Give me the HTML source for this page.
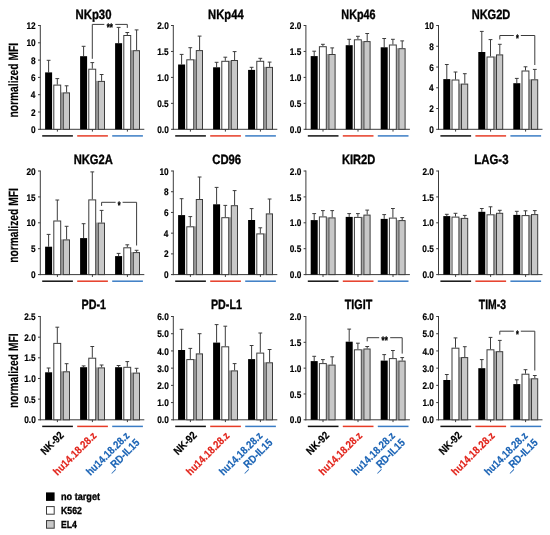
<!DOCTYPE html>
<html><head><meta charset="utf-8"><title>Figure</title>
<style>
html,body{margin:0;padding:0;background:#fff;}
body{width:550px;height:535px;overflow:hidden;}
svg{display:block;}
text{font-family:"Liberation Sans",Arial,sans-serif;font-weight:bold;text-rendering:geometricPrecision;}
</style></head><body>
<svg width="550" height="535" viewBox="0 0 550 535">
<rect width="550" height="535" fill="#fff"/>
<text transform="translate(75.47 18.50) scale(0.8421 1)" font-size="13.50" fill="#000" stroke="#000" stroke-width="0.35">NKp30</text>
<line x1="40.30" y1="25.00" x2="40.30" y2="129.80" stroke="#3c3c3c" stroke-width="1.00"/>
<line x1="39.80" y1="129.30" x2="144.30" y2="129.30" stroke="#3c3c3c" stroke-width="1.00"/>
<line x1="38.00" y1="129.30" x2="40.30" y2="129.30" stroke="#3c3c3c" stroke-width="1.00"/>
<text transform="translate(31.11 132.90) scale(0.8600 1)" font-size="9.60" fill="#000" stroke="#000" stroke-width="0.20">0</text>
<line x1="38.00" y1="112.00" x2="40.30" y2="112.00" stroke="#3c3c3c" stroke-width="1.00"/>
<text transform="translate(31.11 115.60) scale(0.8600 1)" font-size="9.60" fill="#000" stroke="#000" stroke-width="0.20">2</text>
<line x1="38.00" y1="94.70" x2="40.30" y2="94.70" stroke="#3c3c3c" stroke-width="1.00"/>
<text transform="translate(30.78 98.30) scale(0.8600 1)" font-size="9.60" fill="#000" stroke="#000" stroke-width="0.20">4</text>
<line x1="38.00" y1="77.40" x2="40.30" y2="77.40" stroke="#3c3c3c" stroke-width="1.00"/>
<text transform="translate(31.11 81.00) scale(0.8600 1)" font-size="9.60" fill="#000" stroke="#000" stroke-width="0.20">6</text>
<line x1="38.00" y1="60.10" x2="40.30" y2="60.10" stroke="#3c3c3c" stroke-width="1.00"/>
<text transform="translate(31.02 63.70) scale(0.8600 1)" font-size="9.60" fill="#000" stroke="#000" stroke-width="0.20">8</text>
<line x1="38.00" y1="42.80" x2="40.30" y2="42.80" stroke="#3c3c3c" stroke-width="1.00"/>
<text transform="translate(26.48 46.40) scale(0.8600 1)" font-size="9.60" fill="#000" stroke="#000" stroke-width="0.20">10</text>
<line x1="38.00" y1="25.50" x2="40.30" y2="25.50" stroke="#3c3c3c" stroke-width="1.00"/>
<text transform="translate(26.48 29.10) scale(0.8600 1)" font-size="9.60" fill="#000" stroke="#000" stroke-width="0.20">12</text>
<path d="M48.60 72.40 V60.30 M46.70 60.30 H50.50" stroke="#3c3c3c" stroke-width="1" fill="none"/>
<path d="M57.30 84.60 V78.60 M55.40 78.60 H59.20" stroke="#3c3c3c" stroke-width="1" fill="none"/>
<path d="M66.60 92.40 V85.80 M64.70 85.80 H68.50" stroke="#3c3c3c" stroke-width="1" fill="none"/>
<rect x="45.10" y="72.40" width="7" height="56.90" fill="#000"/>
<rect x="60.90" y="92.40" width="2.0" height="36.90" fill="#a6a6a6"/>
<rect x="53.80" y="85.10" width="6.9" height="44.20" fill="#fff" stroke="#3c3c3c" stroke-width="1"/>
<rect x="63.30" y="92.90" width="6.2" height="36.40" fill="#c8c8c8" stroke="#3c3c3c" stroke-width="1"/>
<line x1="57.40" y1="129.30" x2="57.40" y2="131.60" stroke="#3c3c3c" stroke-width="1"/>
<line x1="42.20" y1="135.90" x2="72.90" y2="135.90" stroke="#111111" stroke-width="1.5"/>
<path d="M83.60 56.20 V46.30 M81.70 46.30 H85.50" stroke="#3c3c3c" stroke-width="1" fill="none"/>
<path d="M92.30 68.70 V62.60 M90.40 62.60 H94.20" stroke="#3c3c3c" stroke-width="1" fill="none"/>
<path d="M101.60 80.90 V74.50 M99.70 74.50 H103.50" stroke="#3c3c3c" stroke-width="1" fill="none"/>
<rect x="80.10" y="56.20" width="7" height="73.10" fill="#000"/>
<rect x="95.90" y="80.90" width="2.0" height="48.40" fill="#a6a6a6"/>
<rect x="88.80" y="69.20" width="6.9" height="60.10" fill="#fff" stroke="#3c3c3c" stroke-width="1"/>
<rect x="98.30" y="81.40" width="6.2" height="47.90" fill="#c8c8c8" stroke="#3c3c3c" stroke-width="1"/>
<line x1="92.40" y1="129.30" x2="92.40" y2="131.60" stroke="#3c3c3c" stroke-width="1"/>
<line x1="77.20" y1="135.90" x2="107.90" y2="135.90" stroke="#e63b26" stroke-width="1.5"/>
<path d="M118.60 43.20 V27.40 M116.70 27.40 H120.50" stroke="#3c3c3c" stroke-width="1" fill="none"/>
<path d="M127.30 35.00 V32.50 M125.40 32.50 H129.20" stroke="#3c3c3c" stroke-width="1" fill="none"/>
<path d="M136.60 50.20 V29.90 M134.70 29.90 H138.50" stroke="#3c3c3c" stroke-width="1" fill="none"/>
<rect x="115.10" y="43.20" width="7" height="86.10" fill="#000"/>
<rect x="130.90" y="50.20" width="2.0" height="79.10" fill="#a6a6a6"/>
<rect x="123.80" y="35.50" width="6.9" height="93.80" fill="#fff" stroke="#3c3c3c" stroke-width="1"/>
<rect x="133.30" y="50.70" width="6.2" height="78.60" fill="#c8c8c8" stroke="#3c3c3c" stroke-width="1"/>
<line x1="127.40" y1="129.30" x2="127.40" y2="131.60" stroke="#3c3c3c" stroke-width="1"/>
<line x1="112.20" y1="135.90" x2="142.90" y2="135.90" stroke="#3a7cc4" stroke-width="1.5"/>
<path d="M92.30 58.80 V24.40 H104.30 M115.30 24.40 H127.30 V27.90" stroke="#3c3c3c" stroke-width="1" fill="none"/>
<text transform="translate(106.70 30.90) scale(0.7226 1)" font-size="11.00" fill="#000" stroke="#000" stroke-width="0.35">**</text>
<text transform="translate(208.08 18.50) scale(0.8312 1)" font-size="13.50" fill="#000" stroke="#000" stroke-width="0.35">NKp44</text>
<line x1="173.30" y1="25.00" x2="173.30" y2="129.80" stroke="#3c3c3c" stroke-width="1.00"/>
<line x1="172.80" y1="129.30" x2="277.30" y2="129.30" stroke="#3c3c3c" stroke-width="1.00"/>
<line x1="171.00" y1="129.30" x2="173.30" y2="129.30" stroke="#3c3c3c" stroke-width="1.00"/>
<text transform="translate(157.25 132.90) scale(0.8600 1)" font-size="9.60" fill="#000" stroke="#000" stroke-width="0.20">0.0</text>
<line x1="171.00" y1="103.35" x2="173.30" y2="103.35" stroke="#3c3c3c" stroke-width="1.00"/>
<text transform="translate(157.17 106.95) scale(0.8600 1)" font-size="9.60" fill="#000" stroke="#000" stroke-width="0.20">0.5</text>
<line x1="171.00" y1="77.40" x2="173.30" y2="77.40" stroke="#3c3c3c" stroke-width="1.00"/>
<text transform="translate(157.25 81.00) scale(0.8600 1)" font-size="9.60" fill="#000" stroke="#000" stroke-width="0.20">1.0</text>
<line x1="171.00" y1="51.45" x2="173.30" y2="51.45" stroke="#3c3c3c" stroke-width="1.00"/>
<text transform="translate(157.17 55.05) scale(0.8600 1)" font-size="9.60" fill="#000" stroke="#000" stroke-width="0.20">1.5</text>
<line x1="171.00" y1="25.50" x2="173.30" y2="25.50" stroke="#3c3c3c" stroke-width="1.00"/>
<text transform="translate(157.25 29.10) scale(0.8600 1)" font-size="9.60" fill="#000" stroke="#000" stroke-width="0.20">2.0</text>
<path d="M181.60 64.50 V54.40 M179.70 54.40 H183.50" stroke="#3c3c3c" stroke-width="1" fill="none"/>
<path d="M190.30 59.30 V47.70 M188.40 47.70 H192.20" stroke="#3c3c3c" stroke-width="1" fill="none"/>
<path d="M199.60 50.10 V36.10 M197.70 36.10 H201.50" stroke="#3c3c3c" stroke-width="1" fill="none"/>
<rect x="178.10" y="64.50" width="7" height="64.80" fill="#000"/>
<rect x="193.90" y="59.30" width="2.0" height="70.00" fill="#a6a6a6"/>
<rect x="186.80" y="59.80" width="6.9" height="69.50" fill="#fff" stroke="#3c3c3c" stroke-width="1"/>
<rect x="196.30" y="50.60" width="6.2" height="78.70" fill="#c8c8c8" stroke="#3c3c3c" stroke-width="1"/>
<line x1="190.40" y1="129.30" x2="190.40" y2="131.60" stroke="#3c3c3c" stroke-width="1"/>
<line x1="175.20" y1="135.90" x2="205.90" y2="135.90" stroke="#111111" stroke-width="1.5"/>
<path d="M216.60 67.30 V62.30 M214.70 62.30 H218.50" stroke="#3c3c3c" stroke-width="1" fill="none"/>
<path d="M225.30 60.80 V57.20 M223.40 57.20 H227.20" stroke="#3c3c3c" stroke-width="1" fill="none"/>
<path d="M234.60 60.00 V51.60 M232.70 51.60 H236.50" stroke="#3c3c3c" stroke-width="1" fill="none"/>
<rect x="213.10" y="67.30" width="7" height="62.00" fill="#000"/>
<rect x="228.90" y="60.80" width="2.0" height="68.50" fill="#a6a6a6"/>
<rect x="221.80" y="61.30" width="6.9" height="68.00" fill="#fff" stroke="#3c3c3c" stroke-width="1"/>
<rect x="231.30" y="60.50" width="6.2" height="68.80" fill="#c8c8c8" stroke="#3c3c3c" stroke-width="1"/>
<line x1="225.40" y1="129.30" x2="225.40" y2="131.60" stroke="#3c3c3c" stroke-width="1"/>
<line x1="210.20" y1="135.90" x2="240.90" y2="135.90" stroke="#e63b26" stroke-width="1.5"/>
<path d="M251.60 69.90 V67.30 M249.70 67.30 H253.50" stroke="#3c3c3c" stroke-width="1" fill="none"/>
<path d="M260.30 60.80 V58.30 M258.40 58.30 H262.20" stroke="#3c3c3c" stroke-width="1" fill="none"/>
<path d="M269.60 66.90 V62.10 M267.70 62.10 H271.50" stroke="#3c3c3c" stroke-width="1" fill="none"/>
<rect x="248.10" y="69.90" width="7" height="59.40" fill="#000"/>
<rect x="263.90" y="66.90" width="2.0" height="62.40" fill="#a6a6a6"/>
<rect x="256.80" y="61.30" width="6.9" height="68.00" fill="#fff" stroke="#3c3c3c" stroke-width="1"/>
<rect x="266.30" y="67.40" width="6.2" height="61.90" fill="#c8c8c8" stroke="#3c3c3c" stroke-width="1"/>
<line x1="260.40" y1="129.30" x2="260.40" y2="131.60" stroke="#3c3c3c" stroke-width="1"/>
<line x1="245.20" y1="135.90" x2="275.90" y2="135.90" stroke="#3a7cc4" stroke-width="1.5"/>
<text transform="translate(341.35 18.50) scale(0.8011 1)" font-size="13.50" fill="#000" stroke="#000" stroke-width="0.35">NKp46</text>
<line x1="305.90" y1="25.00" x2="305.90" y2="129.80" stroke="#3c3c3c" stroke-width="1.00"/>
<line x1="305.40" y1="129.30" x2="409.90" y2="129.30" stroke="#3c3c3c" stroke-width="1.00"/>
<line x1="303.60" y1="129.30" x2="305.90" y2="129.30" stroke="#3c3c3c" stroke-width="1.00"/>
<text transform="translate(289.85 132.90) scale(0.8600 1)" font-size="9.60" fill="#000" stroke="#000" stroke-width="0.20">0.0</text>
<line x1="303.60" y1="103.35" x2="305.90" y2="103.35" stroke="#3c3c3c" stroke-width="1.00"/>
<text transform="translate(289.77 106.95) scale(0.8600 1)" font-size="9.60" fill="#000" stroke="#000" stroke-width="0.20">0.5</text>
<line x1="303.60" y1="77.40" x2="305.90" y2="77.40" stroke="#3c3c3c" stroke-width="1.00"/>
<text transform="translate(289.85 81.00) scale(0.8600 1)" font-size="9.60" fill="#000" stroke="#000" stroke-width="0.20">1.0</text>
<line x1="303.60" y1="51.45" x2="305.90" y2="51.45" stroke="#3c3c3c" stroke-width="1.00"/>
<text transform="translate(289.77 55.05) scale(0.8600 1)" font-size="9.60" fill="#000" stroke="#000" stroke-width="0.20">1.5</text>
<line x1="303.60" y1="25.50" x2="305.90" y2="25.50" stroke="#3c3c3c" stroke-width="1.00"/>
<text transform="translate(289.85 29.10) scale(0.8600 1)" font-size="9.60" fill="#000" stroke="#000" stroke-width="0.20">2.0</text>
<path d="M314.20 56.10 V51.20 M312.30 51.20 H316.10" stroke="#3c3c3c" stroke-width="1" fill="none"/>
<path d="M322.90 46.20 V44.30 M321.00 44.30 H324.80" stroke="#3c3c3c" stroke-width="1" fill="none"/>
<path d="M332.20 54.00 V47.90 M330.30 47.90 H334.10" stroke="#3c3c3c" stroke-width="1" fill="none"/>
<rect x="310.70" y="56.10" width="7" height="73.20" fill="#000"/>
<rect x="326.50" y="54.00" width="2.0" height="75.30" fill="#a6a6a6"/>
<rect x="319.40" y="46.70" width="6.9" height="82.60" fill="#fff" stroke="#3c3c3c" stroke-width="1"/>
<rect x="328.90" y="54.50" width="6.2" height="74.80" fill="#c8c8c8" stroke="#3c3c3c" stroke-width="1"/>
<line x1="323.00" y1="129.30" x2="323.00" y2="131.60" stroke="#3c3c3c" stroke-width="1"/>
<line x1="307.80" y1="135.90" x2="338.50" y2="135.90" stroke="#111111" stroke-width="1.5"/>
<path d="M349.20 45.20 V39.30 M347.30 39.30 H351.10" stroke="#3c3c3c" stroke-width="1" fill="none"/>
<path d="M357.90 39.30 V36.30 M356.00 36.30 H359.80" stroke="#3c3c3c" stroke-width="1" fill="none"/>
<path d="M367.20 41.10 V33.50 M365.30 33.50 H369.10" stroke="#3c3c3c" stroke-width="1" fill="none"/>
<rect x="345.70" y="45.20" width="7" height="84.10" fill="#000"/>
<rect x="361.50" y="41.10" width="2.0" height="88.20" fill="#a6a6a6"/>
<rect x="354.40" y="39.80" width="6.9" height="89.50" fill="#fff" stroke="#3c3c3c" stroke-width="1"/>
<rect x="363.90" y="41.60" width="6.2" height="87.70" fill="#c8c8c8" stroke="#3c3c3c" stroke-width="1"/>
<line x1="358.00" y1="129.30" x2="358.00" y2="131.60" stroke="#3c3c3c" stroke-width="1"/>
<line x1="342.80" y1="135.90" x2="373.50" y2="135.90" stroke="#e63b26" stroke-width="1.5"/>
<path d="M384.20 47.30 V38.50 M382.30 38.50 H386.10" stroke="#3c3c3c" stroke-width="1" fill="none"/>
<path d="M392.90 44.50 V39.30 M391.00 39.30 H394.80" stroke="#3c3c3c" stroke-width="1" fill="none"/>
<path d="M402.20 48.20 V40.90 M400.30 40.90 H404.10" stroke="#3c3c3c" stroke-width="1" fill="none"/>
<rect x="380.70" y="47.30" width="7" height="82.00" fill="#000"/>
<rect x="396.50" y="48.20" width="2.0" height="81.10" fill="#a6a6a6"/>
<rect x="389.40" y="45.00" width="6.9" height="84.30" fill="#fff" stroke="#3c3c3c" stroke-width="1"/>
<rect x="398.90" y="48.70" width="6.2" height="80.60" fill="#c8c8c8" stroke="#3c3c3c" stroke-width="1"/>
<line x1="393.00" y1="129.30" x2="393.00" y2="131.60" stroke="#3c3c3c" stroke-width="1"/>
<line x1="377.80" y1="135.90" x2="408.50" y2="135.90" stroke="#3a7cc4" stroke-width="1.5"/>
<text transform="translate(471.64 18.50) scale(0.8192 1)" font-size="13.50" fill="#000" stroke="#000" stroke-width="0.35">NKG2D</text>
<line x1="438.50" y1="25.00" x2="438.50" y2="129.80" stroke="#3c3c3c" stroke-width="1.00"/>
<line x1="438.00" y1="129.30" x2="542.50" y2="129.30" stroke="#3c3c3c" stroke-width="1.00"/>
<line x1="436.20" y1="129.30" x2="438.50" y2="129.30" stroke="#3c3c3c" stroke-width="1.00"/>
<text transform="translate(429.31 132.90) scale(0.8600 1)" font-size="9.60" fill="#000" stroke="#000" stroke-width="0.20">0</text>
<line x1="436.20" y1="108.54" x2="438.50" y2="108.54" stroke="#3c3c3c" stroke-width="1.00"/>
<text transform="translate(429.31 112.14) scale(0.8600 1)" font-size="9.60" fill="#000" stroke="#000" stroke-width="0.20">2</text>
<line x1="436.20" y1="87.78" x2="438.50" y2="87.78" stroke="#3c3c3c" stroke-width="1.00"/>
<text transform="translate(428.98 91.38) scale(0.8600 1)" font-size="9.60" fill="#000" stroke="#000" stroke-width="0.20">4</text>
<line x1="436.20" y1="67.02" x2="438.50" y2="67.02" stroke="#3c3c3c" stroke-width="1.00"/>
<text transform="translate(429.31 70.62) scale(0.8600 1)" font-size="9.60" fill="#000" stroke="#000" stroke-width="0.20">6</text>
<line x1="436.20" y1="46.26" x2="438.50" y2="46.26" stroke="#3c3c3c" stroke-width="1.00"/>
<text transform="translate(429.22 49.86) scale(0.8600 1)" font-size="9.60" fill="#000" stroke="#000" stroke-width="0.20">8</text>
<line x1="436.20" y1="25.50" x2="438.50" y2="25.50" stroke="#3c3c3c" stroke-width="1.00"/>
<text transform="translate(424.68 29.10) scale(0.8600 1)" font-size="9.60" fill="#000" stroke="#000" stroke-width="0.20">10</text>
<path d="M446.80 79.10 V64.50 M444.90 64.50 H448.70" stroke="#3c3c3c" stroke-width="1" fill="none"/>
<path d="M455.50 79.50 V72.00 M453.60 72.00 H457.40" stroke="#3c3c3c" stroke-width="1" fill="none"/>
<path d="M464.80 83.60 V73.70 M462.90 73.70 H466.70" stroke="#3c3c3c" stroke-width="1" fill="none"/>
<rect x="443.30" y="79.10" width="7" height="50.20" fill="#000"/>
<rect x="459.10" y="83.60" width="2.0" height="45.70" fill="#a6a6a6"/>
<rect x="452.00" y="80.00" width="6.9" height="49.30" fill="#fff" stroke="#3c3c3c" stroke-width="1"/>
<rect x="461.50" y="84.10" width="6.2" height="45.20" fill="#c8c8c8" stroke="#3c3c3c" stroke-width="1"/>
<line x1="455.60" y1="129.30" x2="455.60" y2="131.60" stroke="#3c3c3c" stroke-width="1"/>
<line x1="440.40" y1="135.90" x2="471.10" y2="135.90" stroke="#111111" stroke-width="1.5"/>
<path d="M481.80 52.00 V31.40 M479.90 31.40 H483.70" stroke="#3c3c3c" stroke-width="1" fill="none"/>
<path d="M490.50 56.50 V39.60 M488.60 39.60 H492.40" stroke="#3c3c3c" stroke-width="1" fill="none"/>
<path d="M499.80 54.40 V44.30 M497.90 44.30 H501.70" stroke="#3c3c3c" stroke-width="1" fill="none"/>
<rect x="478.30" y="52.00" width="7" height="77.30" fill="#000"/>
<rect x="494.10" y="56.50" width="2.0" height="72.80" fill="#a6a6a6"/>
<rect x="487.00" y="57.00" width="6.9" height="72.30" fill="#fff" stroke="#3c3c3c" stroke-width="1"/>
<rect x="496.50" y="54.90" width="6.2" height="74.40" fill="#c8c8c8" stroke="#3c3c3c" stroke-width="1"/>
<line x1="490.60" y1="129.30" x2="490.60" y2="131.60" stroke="#3c3c3c" stroke-width="1"/>
<line x1="475.40" y1="135.90" x2="506.10" y2="135.90" stroke="#e63b26" stroke-width="1.5"/>
<path d="M516.80 83.20 V78.40 M514.90 78.40 H518.70" stroke="#3c3c3c" stroke-width="1" fill="none"/>
<path d="M525.50 70.50 V66.80 M523.60 66.80 H527.40" stroke="#3c3c3c" stroke-width="1" fill="none"/>
<path d="M534.80 79.30 V69.40 M532.90 69.40 H536.70" stroke="#3c3c3c" stroke-width="1" fill="none"/>
<rect x="513.30" y="83.20" width="7" height="46.10" fill="#000"/>
<rect x="529.10" y="79.30" width="2.0" height="50.00" fill="#a6a6a6"/>
<rect x="522.00" y="71.00" width="6.9" height="58.30" fill="#fff" stroke="#3c3c3c" stroke-width="1"/>
<rect x="531.50" y="79.80" width="6.2" height="49.50" fill="#c8c8c8" stroke="#3c3c3c" stroke-width="1"/>
<line x1="525.60" y1="129.30" x2="525.60" y2="131.60" stroke="#3c3c3c" stroke-width="1"/>
<line x1="510.40" y1="135.90" x2="541.10" y2="135.90" stroke="#3a7cc4" stroke-width="1.5"/>
<path d="M499.80 39.50 V35.50 H513.80 M520.80 35.50 H534.80 V65.00" stroke="#3c3c3c" stroke-width="1" fill="none"/>
<text transform="translate(515.90 42.00) scale(0.6527 1)" font-size="11.00" fill="#000" stroke="#000" stroke-width="0.35">*</text>
<text transform="translate(73.68 164.20) scale(0.8295 1)" font-size="13.50" fill="#000" stroke="#000" stroke-width="0.35">NKG2A</text>
<line x1="40.30" y1="170.50" x2="40.30" y2="275.10" stroke="#3c3c3c" stroke-width="1.00"/>
<line x1="39.80" y1="274.60" x2="144.30" y2="274.60" stroke="#3c3c3c" stroke-width="1.00"/>
<line x1="38.00" y1="274.60" x2="40.30" y2="274.60" stroke="#3c3c3c" stroke-width="1.00"/>
<text transform="translate(31.11 278.20) scale(0.8600 1)" font-size="9.60" fill="#000" stroke="#000" stroke-width="0.20">0</text>
<line x1="38.00" y1="248.70" x2="40.30" y2="248.70" stroke="#3c3c3c" stroke-width="1.00"/>
<text transform="translate(31.02 252.30) scale(0.8600 1)" font-size="9.60" fill="#000" stroke="#000" stroke-width="0.20">5</text>
<line x1="38.00" y1="222.80" x2="40.30" y2="222.80" stroke="#3c3c3c" stroke-width="1.00"/>
<text transform="translate(26.48 226.40) scale(0.8600 1)" font-size="9.60" fill="#000" stroke="#000" stroke-width="0.20">10</text>
<line x1="38.00" y1="196.90" x2="40.30" y2="196.90" stroke="#3c3c3c" stroke-width="1.00"/>
<text transform="translate(26.40 200.50) scale(0.8600 1)" font-size="9.60" fill="#000" stroke="#000" stroke-width="0.20">15</text>
<line x1="38.00" y1="171.00" x2="40.30" y2="171.00" stroke="#3c3c3c" stroke-width="1.00"/>
<text transform="translate(26.48 174.60) scale(0.8600 1)" font-size="9.60" fill="#000" stroke="#000" stroke-width="0.20">20</text>
<path d="M48.60 246.70 V234.40 M46.70 234.40 H50.50" stroke="#3c3c3c" stroke-width="1" fill="none"/>
<path d="M57.30 220.50 V200.00 M55.40 200.00 H59.20" stroke="#3c3c3c" stroke-width="1" fill="none"/>
<path d="M66.60 239.40 V226.30 M64.70 226.30 H68.50" stroke="#3c3c3c" stroke-width="1" fill="none"/>
<rect x="45.10" y="246.70" width="7" height="27.90" fill="#000"/>
<rect x="60.90" y="239.40" width="2.0" height="35.20" fill="#a6a6a6"/>
<rect x="53.80" y="221.00" width="6.9" height="53.60" fill="#fff" stroke="#3c3c3c" stroke-width="1"/>
<rect x="63.30" y="239.90" width="6.2" height="34.70" fill="#c8c8c8" stroke="#3c3c3c" stroke-width="1"/>
<line x1="57.40" y1="274.60" x2="57.40" y2="276.90" stroke="#3c3c3c" stroke-width="1"/>
<line x1="42.20" y1="281.20" x2="72.90" y2="281.20" stroke="#111111" stroke-width="1.5"/>
<path d="M83.60 238.10 V223.70 M81.70 223.70 H85.50" stroke="#3c3c3c" stroke-width="1" fill="none"/>
<path d="M92.30 199.40 V171.90 M90.40 171.90 H94.20" stroke="#3c3c3c" stroke-width="1" fill="none"/>
<path d="M101.60 222.60 V210.40 M99.70 210.40 H103.50" stroke="#3c3c3c" stroke-width="1" fill="none"/>
<rect x="80.10" y="238.10" width="7" height="36.50" fill="#000"/>
<rect x="95.90" y="222.60" width="2.0" height="52.00" fill="#a6a6a6"/>
<rect x="88.80" y="199.90" width="6.9" height="74.70" fill="#fff" stroke="#3c3c3c" stroke-width="1"/>
<rect x="98.30" y="223.10" width="6.2" height="51.50" fill="#c8c8c8" stroke="#3c3c3c" stroke-width="1"/>
<line x1="92.40" y1="274.60" x2="92.40" y2="276.90" stroke="#3c3c3c" stroke-width="1"/>
<line x1="77.20" y1="281.20" x2="107.90" y2="281.20" stroke="#e63b26" stroke-width="1.5"/>
<path d="M118.60 256.10 V253.40 M116.70 253.40 H120.50" stroke="#3c3c3c" stroke-width="1" fill="none"/>
<path d="M127.30 247.30 V244.80 M125.40 244.80 H129.20" stroke="#3c3c3c" stroke-width="1" fill="none"/>
<path d="M136.60 252.10 V250.30 M134.70 250.30 H138.50" stroke="#3c3c3c" stroke-width="1" fill="none"/>
<rect x="115.10" y="256.10" width="7" height="18.50" fill="#000"/>
<rect x="130.90" y="252.10" width="2.0" height="22.50" fill="#a6a6a6"/>
<rect x="123.80" y="247.80" width="6.9" height="26.80" fill="#fff" stroke="#3c3c3c" stroke-width="1"/>
<rect x="133.30" y="252.60" width="6.2" height="22.00" fill="#c8c8c8" stroke="#3c3c3c" stroke-width="1"/>
<line x1="127.40" y1="274.60" x2="127.40" y2="276.90" stroke="#3c3c3c" stroke-width="1"/>
<line x1="112.20" y1="281.20" x2="142.90" y2="281.20" stroke="#3a7cc4" stroke-width="1.5"/>
<path d="M101.60 205.90 V202.30 H115.60 M122.60 202.30 H136.60 V245.50" stroke="#3c3c3c" stroke-width="1" fill="none"/>
<text transform="translate(117.70 208.80) scale(0.6527 1)" font-size="11.00" fill="#000" stroke="#000" stroke-width="0.35">*</text>
<text transform="translate(212.20 164.20) scale(0.8393 1)" font-size="13.50" fill="#000" stroke="#000" stroke-width="0.35">CD96</text>
<line x1="173.30" y1="170.50" x2="173.30" y2="275.10" stroke="#3c3c3c" stroke-width="1.00"/>
<line x1="172.80" y1="274.60" x2="277.30" y2="274.60" stroke="#3c3c3c" stroke-width="1.00"/>
<line x1="171.00" y1="274.60" x2="173.30" y2="274.60" stroke="#3c3c3c" stroke-width="1.00"/>
<text transform="translate(164.11 278.20) scale(0.8600 1)" font-size="9.60" fill="#000" stroke="#000" stroke-width="0.20">0</text>
<line x1="171.00" y1="253.88" x2="173.30" y2="253.88" stroke="#3c3c3c" stroke-width="1.00"/>
<text transform="translate(164.11 257.48) scale(0.8600 1)" font-size="9.60" fill="#000" stroke="#000" stroke-width="0.20">2</text>
<line x1="171.00" y1="233.16" x2="173.30" y2="233.16" stroke="#3c3c3c" stroke-width="1.00"/>
<text transform="translate(163.78 236.76) scale(0.8600 1)" font-size="9.60" fill="#000" stroke="#000" stroke-width="0.20">4</text>
<line x1="171.00" y1="212.44" x2="173.30" y2="212.44" stroke="#3c3c3c" stroke-width="1.00"/>
<text transform="translate(164.11 216.04) scale(0.8600 1)" font-size="9.60" fill="#000" stroke="#000" stroke-width="0.20">6</text>
<line x1="171.00" y1="191.72" x2="173.30" y2="191.72" stroke="#3c3c3c" stroke-width="1.00"/>
<text transform="translate(164.02 195.32) scale(0.8600 1)" font-size="9.60" fill="#000" stroke="#000" stroke-width="0.20">8</text>
<line x1="171.00" y1="171.00" x2="173.30" y2="171.00" stroke="#3c3c3c" stroke-width="1.00"/>
<text transform="translate(159.48 174.60) scale(0.8600 1)" font-size="9.60" fill="#000" stroke="#000" stroke-width="0.20">10</text>
<path d="M181.60 215.10 V198.70 M179.70 198.70 H183.50" stroke="#3c3c3c" stroke-width="1" fill="none"/>
<path d="M190.30 226.30 V216.60 M188.40 216.60 H192.20" stroke="#3c3c3c" stroke-width="1" fill="none"/>
<path d="M199.60 199.00 V177.00 M197.70 177.00 H201.50" stroke="#3c3c3c" stroke-width="1" fill="none"/>
<rect x="178.10" y="215.10" width="7" height="59.50" fill="#000"/>
<rect x="193.90" y="226.30" width="2.0" height="48.30" fill="#a6a6a6"/>
<rect x="186.80" y="226.80" width="6.9" height="47.80" fill="#fff" stroke="#3c3c3c" stroke-width="1"/>
<rect x="196.30" y="199.50" width="6.2" height="75.10" fill="#c8c8c8" stroke="#3c3c3c" stroke-width="1"/>
<line x1="190.40" y1="274.60" x2="190.40" y2="276.90" stroke="#3c3c3c" stroke-width="1"/>
<line x1="175.20" y1="281.20" x2="205.90" y2="281.20" stroke="#111111" stroke-width="1.5"/>
<path d="M216.60 204.30 V187.40 M214.70 187.40 H218.50" stroke="#3c3c3c" stroke-width="1" fill="none"/>
<path d="M225.30 217.20 V205.40 M223.40 205.40 H227.20" stroke="#3c3c3c" stroke-width="1" fill="none"/>
<path d="M234.60 205.20 V190.60 M232.70 190.60 H236.50" stroke="#3c3c3c" stroke-width="1" fill="none"/>
<rect x="213.10" y="204.30" width="7" height="70.30" fill="#000"/>
<rect x="228.90" y="217.20" width="2.0" height="57.40" fill="#a6a6a6"/>
<rect x="221.80" y="217.70" width="6.9" height="56.90" fill="#fff" stroke="#3c3c3c" stroke-width="1"/>
<rect x="231.30" y="205.70" width="6.2" height="68.90" fill="#c8c8c8" stroke="#3c3c3c" stroke-width="1"/>
<line x1="225.40" y1="274.60" x2="225.40" y2="276.90" stroke="#3c3c3c" stroke-width="1"/>
<line x1="210.20" y1="281.20" x2="240.90" y2="281.20" stroke="#e63b26" stroke-width="1.5"/>
<path d="M251.60 220.00 V208.60 M249.70 208.60 H253.50" stroke="#3c3c3c" stroke-width="1" fill="none"/>
<path d="M260.30 233.40 V227.80 M258.40 227.80 H262.20" stroke="#3c3c3c" stroke-width="1" fill="none"/>
<path d="M269.60 213.40 V199.00 M267.70 199.00 H271.50" stroke="#3c3c3c" stroke-width="1" fill="none"/>
<rect x="248.10" y="220.00" width="7" height="54.60" fill="#000"/>
<rect x="263.90" y="233.40" width="2.0" height="41.20" fill="#a6a6a6"/>
<rect x="256.80" y="233.90" width="6.9" height="40.70" fill="#fff" stroke="#3c3c3c" stroke-width="1"/>
<rect x="266.30" y="213.90" width="6.2" height="60.70" fill="#c8c8c8" stroke="#3c3c3c" stroke-width="1"/>
<line x1="260.40" y1="274.60" x2="260.40" y2="276.90" stroke="#3c3c3c" stroke-width="1"/>
<line x1="245.20" y1="281.20" x2="275.90" y2="281.20" stroke="#3a7cc4" stroke-width="1.5"/>
<text transform="translate(341.93 164.20) scale(0.8225 1)" font-size="13.50" fill="#000" stroke="#000" stroke-width="0.35">KIR2D</text>
<line x1="305.90" y1="170.50" x2="305.90" y2="275.10" stroke="#3c3c3c" stroke-width="1.00"/>
<line x1="305.40" y1="274.60" x2="409.90" y2="274.60" stroke="#3c3c3c" stroke-width="1.00"/>
<line x1="303.60" y1="274.60" x2="305.90" y2="274.60" stroke="#3c3c3c" stroke-width="1.00"/>
<text transform="translate(289.85 278.20) scale(0.8600 1)" font-size="9.60" fill="#000" stroke="#000" stroke-width="0.20">0.0</text>
<line x1="303.60" y1="248.70" x2="305.90" y2="248.70" stroke="#3c3c3c" stroke-width="1.00"/>
<text transform="translate(289.77 252.30) scale(0.8600 1)" font-size="9.60" fill="#000" stroke="#000" stroke-width="0.20">0.5</text>
<line x1="303.60" y1="222.80" x2="305.90" y2="222.80" stroke="#3c3c3c" stroke-width="1.00"/>
<text transform="translate(289.85 226.40) scale(0.8600 1)" font-size="9.60" fill="#000" stroke="#000" stroke-width="0.20">1.0</text>
<line x1="303.60" y1="196.90" x2="305.90" y2="196.90" stroke="#3c3c3c" stroke-width="1.00"/>
<text transform="translate(289.77 200.50) scale(0.8600 1)" font-size="9.60" fill="#000" stroke="#000" stroke-width="0.20">1.5</text>
<line x1="303.60" y1="171.00" x2="305.90" y2="171.00" stroke="#3c3c3c" stroke-width="1.00"/>
<text transform="translate(289.85 174.60) scale(0.8600 1)" font-size="9.60" fill="#000" stroke="#000" stroke-width="0.20">2.0</text>
<path d="M314.20 220.10 V213.60 M312.30 213.60 H316.10" stroke="#3c3c3c" stroke-width="1" fill="none"/>
<path d="M322.90 216.40 V210.60 M321.00 210.60 H324.80" stroke="#3c3c3c" stroke-width="1" fill="none"/>
<path d="M332.20 217.40 V210.60 M330.30 210.60 H334.10" stroke="#3c3c3c" stroke-width="1" fill="none"/>
<rect x="310.70" y="220.10" width="7" height="54.50" fill="#000"/>
<rect x="326.50" y="217.40" width="2.0" height="57.20" fill="#a6a6a6"/>
<rect x="319.40" y="216.90" width="6.9" height="57.70" fill="#fff" stroke="#3c3c3c" stroke-width="1"/>
<rect x="328.90" y="217.90" width="6.2" height="56.70" fill="#c8c8c8" stroke="#3c3c3c" stroke-width="1"/>
<line x1="323.00" y1="274.60" x2="323.00" y2="276.90" stroke="#3c3c3c" stroke-width="1"/>
<line x1="307.80" y1="281.20" x2="338.50" y2="281.20" stroke="#111111" stroke-width="1.5"/>
<path d="M349.20 216.90 V213.60 M347.30 213.60 H351.10" stroke="#3c3c3c" stroke-width="1" fill="none"/>
<path d="M357.90 216.90 V213.60 M356.00 213.60 H359.80" stroke="#3c3c3c" stroke-width="1" fill="none"/>
<path d="M367.20 214.60 V210.10 M365.30 210.10 H369.10" stroke="#3c3c3c" stroke-width="1" fill="none"/>
<rect x="345.70" y="216.90" width="7" height="57.70" fill="#000"/>
<rect x="361.50" y="216.90" width="2.0" height="57.70" fill="#a6a6a6"/>
<rect x="354.40" y="217.40" width="6.9" height="57.20" fill="#fff" stroke="#3c3c3c" stroke-width="1"/>
<rect x="363.90" y="215.10" width="6.2" height="59.50" fill="#c8c8c8" stroke="#3c3c3c" stroke-width="1"/>
<line x1="358.00" y1="274.60" x2="358.00" y2="276.90" stroke="#3c3c3c" stroke-width="1"/>
<line x1="342.80" y1="281.20" x2="373.50" y2="281.20" stroke="#e63b26" stroke-width="1.5"/>
<path d="M384.20 218.90 V214.60 M382.30 214.60 H386.10" stroke="#3c3c3c" stroke-width="1" fill="none"/>
<path d="M392.90 217.60 V208.50 M391.00 208.50 H394.80" stroke="#3c3c3c" stroke-width="1" fill="none"/>
<path d="M402.20 220.10 V217.60 M400.30 217.60 H404.10" stroke="#3c3c3c" stroke-width="1" fill="none"/>
<rect x="380.70" y="218.90" width="7" height="55.70" fill="#000"/>
<rect x="396.50" y="220.10" width="2.0" height="54.50" fill="#a6a6a6"/>
<rect x="389.40" y="218.10" width="6.9" height="56.50" fill="#fff" stroke="#3c3c3c" stroke-width="1"/>
<rect x="398.90" y="220.60" width="6.2" height="54.00" fill="#c8c8c8" stroke="#3c3c3c" stroke-width="1"/>
<line x1="393.00" y1="274.60" x2="393.00" y2="276.90" stroke="#3c3c3c" stroke-width="1"/>
<line x1="377.80" y1="281.20" x2="408.50" y2="281.20" stroke="#3a7cc4" stroke-width="1.5"/>
<text transform="translate(474.27 164.20) scale(0.8455 1)" font-size="13.50" fill="#000" stroke="#000" stroke-width="0.35">LAG-3</text>
<line x1="438.50" y1="170.50" x2="438.50" y2="275.10" stroke="#3c3c3c" stroke-width="1.00"/>
<line x1="438.00" y1="274.60" x2="542.50" y2="274.60" stroke="#3c3c3c" stroke-width="1.00"/>
<line x1="436.20" y1="274.60" x2="438.50" y2="274.60" stroke="#3c3c3c" stroke-width="1.00"/>
<text transform="translate(422.45 278.20) scale(0.8600 1)" font-size="9.60" fill="#000" stroke="#000" stroke-width="0.20">0.0</text>
<line x1="436.20" y1="248.70" x2="438.50" y2="248.70" stroke="#3c3c3c" stroke-width="1.00"/>
<text transform="translate(422.37 252.30) scale(0.8600 1)" font-size="9.60" fill="#000" stroke="#000" stroke-width="0.20">0.5</text>
<line x1="436.20" y1="222.80" x2="438.50" y2="222.80" stroke="#3c3c3c" stroke-width="1.00"/>
<text transform="translate(422.45 226.40) scale(0.8600 1)" font-size="9.60" fill="#000" stroke="#000" stroke-width="0.20">1.0</text>
<line x1="436.20" y1="196.90" x2="438.50" y2="196.90" stroke="#3c3c3c" stroke-width="1.00"/>
<text transform="translate(422.37 200.50) scale(0.8600 1)" font-size="9.60" fill="#000" stroke="#000" stroke-width="0.20">1.5</text>
<line x1="436.20" y1="171.00" x2="438.50" y2="171.00" stroke="#3c3c3c" stroke-width="1.00"/>
<text transform="translate(422.45 174.60) scale(0.8600 1)" font-size="9.60" fill="#000" stroke="#000" stroke-width="0.20">2.0</text>
<path d="M446.80 216.10 V214.30 M444.90 214.30 H448.70" stroke="#3c3c3c" stroke-width="1" fill="none"/>
<path d="M455.50 216.60 V213.30 M453.60 213.30 H457.40" stroke="#3c3c3c" stroke-width="1" fill="none"/>
<path d="M464.80 217.90 V215.40 M462.90 215.40 H466.70" stroke="#3c3c3c" stroke-width="1" fill="none"/>
<rect x="443.30" y="216.10" width="7" height="58.50" fill="#000"/>
<rect x="459.10" y="217.90" width="2.0" height="56.70" fill="#a6a6a6"/>
<rect x="452.00" y="217.10" width="6.9" height="57.50" fill="#fff" stroke="#3c3c3c" stroke-width="1"/>
<rect x="461.50" y="218.40" width="6.2" height="56.20" fill="#c8c8c8" stroke="#3c3c3c" stroke-width="1"/>
<line x1="455.60" y1="274.60" x2="455.60" y2="276.90" stroke="#3c3c3c" stroke-width="1"/>
<line x1="440.40" y1="281.20" x2="471.10" y2="281.20" stroke="#111111" stroke-width="1.5"/>
<path d="M481.80 211.80 V208.50 M479.90 208.50 H483.70" stroke="#3c3c3c" stroke-width="1" fill="none"/>
<path d="M490.50 214.30 V206.80 M488.60 206.80 H492.40" stroke="#3c3c3c" stroke-width="1" fill="none"/>
<path d="M499.80 212.80 V210.30 M497.90 210.30 H501.70" stroke="#3c3c3c" stroke-width="1" fill="none"/>
<rect x="478.30" y="211.80" width="7" height="62.80" fill="#000"/>
<rect x="494.10" y="214.30" width="2.0" height="60.30" fill="#a6a6a6"/>
<rect x="487.00" y="214.80" width="6.9" height="59.80" fill="#fff" stroke="#3c3c3c" stroke-width="1"/>
<rect x="496.50" y="213.30" width="6.2" height="61.30" fill="#c8c8c8" stroke="#3c3c3c" stroke-width="1"/>
<line x1="490.60" y1="274.60" x2="490.60" y2="276.90" stroke="#3c3c3c" stroke-width="1"/>
<line x1="475.40" y1="281.20" x2="506.10" y2="281.20" stroke="#e63b26" stroke-width="1.5"/>
<path d="M516.80 214.90 V211.30 M514.90 211.30 H518.70" stroke="#3c3c3c" stroke-width="1" fill="none"/>
<path d="M525.50 215.10 V210.80 M523.60 210.80 H527.40" stroke="#3c3c3c" stroke-width="1" fill="none"/>
<path d="M534.80 214.10 V210.60 M532.90 210.60 H536.70" stroke="#3c3c3c" stroke-width="1" fill="none"/>
<rect x="513.30" y="214.90" width="7" height="59.70" fill="#000"/>
<rect x="529.10" y="215.10" width="2.0" height="59.50" fill="#a6a6a6"/>
<rect x="522.00" y="215.60" width="6.9" height="59.00" fill="#fff" stroke="#3c3c3c" stroke-width="1"/>
<rect x="531.50" y="214.60" width="6.2" height="60.00" fill="#c8c8c8" stroke="#3c3c3c" stroke-width="1"/>
<line x1="525.60" y1="274.60" x2="525.60" y2="276.90" stroke="#3c3c3c" stroke-width="1"/>
<line x1="510.40" y1="281.20" x2="541.10" y2="281.20" stroke="#3a7cc4" stroke-width="1.5"/>
<text transform="translate(81.61 309.20) scale(0.7949 1)" font-size="13.50" fill="#000" stroke="#000" stroke-width="0.35">PD-1</text>
<line x1="40.30" y1="316.00" x2="40.30" y2="420.30" stroke="#3c3c3c" stroke-width="1.00"/>
<line x1="39.80" y1="419.80" x2="144.30" y2="419.80" stroke="#3c3c3c" stroke-width="1.00"/>
<line x1="38.00" y1="419.80" x2="40.30" y2="419.80" stroke="#3c3c3c" stroke-width="1.00"/>
<text transform="translate(24.25 423.40) scale(0.8600 1)" font-size="9.60" fill="#000" stroke="#000" stroke-width="0.20">0.0</text>
<line x1="38.00" y1="399.14" x2="40.30" y2="399.14" stroke="#3c3c3c" stroke-width="1.00"/>
<text transform="translate(24.17 402.74) scale(0.8600 1)" font-size="9.60" fill="#000" stroke="#000" stroke-width="0.20">0.5</text>
<line x1="38.00" y1="378.48" x2="40.30" y2="378.48" stroke="#3c3c3c" stroke-width="1.00"/>
<text transform="translate(24.25 382.08) scale(0.8600 1)" font-size="9.60" fill="#000" stroke="#000" stroke-width="0.20">1.0</text>
<line x1="38.00" y1="357.82" x2="40.30" y2="357.82" stroke="#3c3c3c" stroke-width="1.00"/>
<text transform="translate(24.17 361.42) scale(0.8600 1)" font-size="9.60" fill="#000" stroke="#000" stroke-width="0.20">1.5</text>
<line x1="38.00" y1="337.16" x2="40.30" y2="337.16" stroke="#3c3c3c" stroke-width="1.00"/>
<text transform="translate(24.25 340.76) scale(0.8600 1)" font-size="9.60" fill="#000" stroke="#000" stroke-width="0.20">2.0</text>
<line x1="38.00" y1="316.50" x2="40.30" y2="316.50" stroke="#3c3c3c" stroke-width="1.00"/>
<text transform="translate(24.17 320.10) scale(0.8600 1)" font-size="9.60" fill="#000" stroke="#000" stroke-width="0.20">2.5</text>
<path d="M48.60 372.30 V368.00 M46.70 368.00 H50.50" stroke="#3c3c3c" stroke-width="1" fill="none"/>
<path d="M57.30 342.90 V327.20 M55.40 327.20 H59.20" stroke="#3c3c3c" stroke-width="1" fill="none"/>
<path d="M66.60 371.30 V363.70 M64.70 363.70 H68.50" stroke="#3c3c3c" stroke-width="1" fill="none"/>
<rect x="45.10" y="372.30" width="7" height="47.50" fill="#000"/>
<rect x="60.90" y="371.30" width="2.0" height="48.50" fill="#a6a6a6"/>
<rect x="53.80" y="343.40" width="6.9" height="76.40" fill="#fff" stroke="#3c3c3c" stroke-width="1"/>
<rect x="63.30" y="371.80" width="6.2" height="48.00" fill="#c8c8c8" stroke="#3c3c3c" stroke-width="1"/>
<line x1="57.40" y1="419.80" x2="57.40" y2="422.10" stroke="#3c3c3c" stroke-width="1"/>
<line x1="42.20" y1="426.40" x2="72.90" y2="426.40" stroke="#111111" stroke-width="1.5"/>
<path d="M83.60 367.20 V365.90 M81.70 365.90 H85.50" stroke="#3c3c3c" stroke-width="1" fill="none"/>
<path d="M92.30 357.70 V346.50 M90.40 346.50 H94.20" stroke="#3c3c3c" stroke-width="1" fill="none"/>
<path d="M101.60 367.40 V365.00 M99.70 365.00 H103.50" stroke="#3c3c3c" stroke-width="1" fill="none"/>
<rect x="80.10" y="367.20" width="7" height="52.60" fill="#000"/>
<rect x="95.90" y="367.40" width="2.0" height="52.40" fill="#a6a6a6"/>
<rect x="88.80" y="358.20" width="6.9" height="61.60" fill="#fff" stroke="#3c3c3c" stroke-width="1"/>
<rect x="98.30" y="367.90" width="6.2" height="51.90" fill="#c8c8c8" stroke="#3c3c3c" stroke-width="1"/>
<line x1="92.40" y1="419.80" x2="92.40" y2="422.10" stroke="#3c3c3c" stroke-width="1"/>
<line x1="77.20" y1="426.40" x2="107.90" y2="426.40" stroke="#e63b26" stroke-width="1.5"/>
<path d="M118.60 367.20 V365.50 M116.70 365.50 H120.50" stroke="#3c3c3c" stroke-width="1" fill="none"/>
<path d="M127.30 366.80 V361.60 M125.40 361.60 H129.20" stroke="#3c3c3c" stroke-width="1" fill="none"/>
<path d="M136.60 372.60 V368.30 M134.70 368.30 H138.50" stroke="#3c3c3c" stroke-width="1" fill="none"/>
<rect x="115.10" y="367.20" width="7" height="52.60" fill="#000"/>
<rect x="130.90" y="372.60" width="2.0" height="47.20" fill="#a6a6a6"/>
<rect x="123.80" y="367.30" width="6.9" height="52.50" fill="#fff" stroke="#3c3c3c" stroke-width="1"/>
<rect x="133.30" y="373.10" width="6.2" height="46.70" fill="#c8c8c8" stroke="#3c3c3c" stroke-width="1"/>
<line x1="127.40" y1="419.80" x2="127.40" y2="422.10" stroke="#3c3c3c" stroke-width="1"/>
<line x1="112.20" y1="426.40" x2="142.90" y2="426.40" stroke="#3a7cc4" stroke-width="1.5"/>
<text transform="translate(210.96 309.20) scale(0.7937 1)" font-size="13.50" fill="#000" stroke="#000" stroke-width="0.35">PD-L1</text>
<line x1="173.30" y1="316.00" x2="173.30" y2="420.30" stroke="#3c3c3c" stroke-width="1.00"/>
<line x1="172.80" y1="419.80" x2="277.30" y2="419.80" stroke="#3c3c3c" stroke-width="1.00"/>
<line x1="171.00" y1="419.80" x2="173.30" y2="419.80" stroke="#3c3c3c" stroke-width="1.00"/>
<text transform="translate(157.25 423.40) scale(0.8600 1)" font-size="9.60" fill="#000" stroke="#000" stroke-width="0.20">0.0</text>
<line x1="171.00" y1="402.58" x2="173.30" y2="402.58" stroke="#3c3c3c" stroke-width="1.00"/>
<text transform="translate(157.25 406.18) scale(0.8600 1)" font-size="9.60" fill="#000" stroke="#000" stroke-width="0.20">1.0</text>
<line x1="171.00" y1="385.37" x2="173.30" y2="385.37" stroke="#3c3c3c" stroke-width="1.00"/>
<text transform="translate(157.25 388.97) scale(0.8600 1)" font-size="9.60" fill="#000" stroke="#000" stroke-width="0.20">2.0</text>
<line x1="171.00" y1="368.15" x2="173.30" y2="368.15" stroke="#3c3c3c" stroke-width="1.00"/>
<text transform="translate(157.25 371.75) scale(0.8600 1)" font-size="9.60" fill="#000" stroke="#000" stroke-width="0.20">3.0</text>
<line x1="171.00" y1="350.93" x2="173.30" y2="350.93" stroke="#3c3c3c" stroke-width="1.00"/>
<text transform="translate(157.25 354.53) scale(0.8600 1)" font-size="9.60" fill="#000" stroke="#000" stroke-width="0.20">4.0</text>
<line x1="171.00" y1="333.72" x2="173.30" y2="333.72" stroke="#3c3c3c" stroke-width="1.00"/>
<text transform="translate(157.25 337.32) scale(0.8600 1)" font-size="9.60" fill="#000" stroke="#000" stroke-width="0.20">5.0</text>
<line x1="171.00" y1="316.50" x2="173.30" y2="316.50" stroke="#3c3c3c" stroke-width="1.00"/>
<text transform="translate(157.25 320.10) scale(0.8600 1)" font-size="9.60" fill="#000" stroke="#000" stroke-width="0.20">6.0</text>
<path d="M181.60 350.00 V329.30 M179.70 329.30 H183.50" stroke="#3c3c3c" stroke-width="1" fill="none"/>
<path d="M190.30 359.10 V348.40 M188.40 348.40 H192.20" stroke="#3c3c3c" stroke-width="1" fill="none"/>
<path d="M199.60 353.40 V333.70 M197.70 333.70 H201.50" stroke="#3c3c3c" stroke-width="1" fill="none"/>
<rect x="178.10" y="350.00" width="7" height="69.80" fill="#000"/>
<rect x="193.90" y="359.10" width="2.0" height="60.70" fill="#a6a6a6"/>
<rect x="186.80" y="359.60" width="6.9" height="60.20" fill="#fff" stroke="#3c3c3c" stroke-width="1"/>
<rect x="196.30" y="353.90" width="6.2" height="65.90" fill="#c8c8c8" stroke="#3c3c3c" stroke-width="1"/>
<line x1="190.40" y1="419.80" x2="190.40" y2="422.10" stroke="#3c3c3c" stroke-width="1"/>
<line x1="175.20" y1="426.40" x2="205.90" y2="426.40" stroke="#111111" stroke-width="1.5"/>
<path d="M216.60 342.60 V324.60 M214.70 324.60 H218.50" stroke="#3c3c3c" stroke-width="1" fill="none"/>
<path d="M225.30 346.30 V326.20 M223.40 326.20 H227.20" stroke="#3c3c3c" stroke-width="1" fill="none"/>
<path d="M234.60 370.40 V363.60 M232.70 363.60 H236.50" stroke="#3c3c3c" stroke-width="1" fill="none"/>
<rect x="213.10" y="342.60" width="7" height="77.20" fill="#000"/>
<rect x="228.90" y="370.40" width="2.0" height="49.40" fill="#a6a6a6"/>
<rect x="221.80" y="346.80" width="6.9" height="73.00" fill="#fff" stroke="#3c3c3c" stroke-width="1"/>
<rect x="231.30" y="370.90" width="6.2" height="48.90" fill="#c8c8c8" stroke="#3c3c3c" stroke-width="1"/>
<line x1="225.40" y1="419.80" x2="225.40" y2="422.10" stroke="#3c3c3c" stroke-width="1"/>
<line x1="210.20" y1="426.40" x2="240.90" y2="426.40" stroke="#e63b26" stroke-width="1.5"/>
<path d="M251.60 359.10 V345.50 M249.70 345.50 H253.50" stroke="#3c3c3c" stroke-width="1" fill="none"/>
<path d="M260.30 352.60 V333.00 M258.40 333.00 H262.20" stroke="#3c3c3c" stroke-width="1" fill="none"/>
<path d="M269.60 362.30 V349.50 M267.70 349.50 H271.50" stroke="#3c3c3c" stroke-width="1" fill="none"/>
<rect x="248.10" y="359.10" width="7" height="60.70" fill="#000"/>
<rect x="263.90" y="362.30" width="2.0" height="57.50" fill="#a6a6a6"/>
<rect x="256.80" y="353.10" width="6.9" height="66.70" fill="#fff" stroke="#3c3c3c" stroke-width="1"/>
<rect x="266.30" y="362.80" width="6.2" height="57.00" fill="#c8c8c8" stroke="#3c3c3c" stroke-width="1"/>
<line x1="260.40" y1="419.80" x2="260.40" y2="422.10" stroke="#3c3c3c" stroke-width="1"/>
<line x1="245.20" y1="426.40" x2="275.90" y2="426.40" stroke="#3a7cc4" stroke-width="1.5"/>
<text transform="translate(344.74 309.20) scale(0.7962 1)" font-size="13.50" fill="#000" stroke="#000" stroke-width="0.35">TIGIT</text>
<line x1="305.90" y1="316.00" x2="305.90" y2="420.30" stroke="#3c3c3c" stroke-width="1.00"/>
<line x1="305.40" y1="419.80" x2="409.90" y2="419.80" stroke="#3c3c3c" stroke-width="1.00"/>
<line x1="303.60" y1="419.80" x2="305.90" y2="419.80" stroke="#3c3c3c" stroke-width="1.00"/>
<text transform="translate(289.85 423.40) scale(0.8600 1)" font-size="9.60" fill="#000" stroke="#000" stroke-width="0.20">0.0</text>
<line x1="303.60" y1="393.98" x2="305.90" y2="393.98" stroke="#3c3c3c" stroke-width="1.00"/>
<text transform="translate(289.77 397.58) scale(0.8600 1)" font-size="9.60" fill="#000" stroke="#000" stroke-width="0.20">0.5</text>
<line x1="303.60" y1="368.15" x2="305.90" y2="368.15" stroke="#3c3c3c" stroke-width="1.00"/>
<text transform="translate(289.85 371.75) scale(0.8600 1)" font-size="9.60" fill="#000" stroke="#000" stroke-width="0.20">1.0</text>
<line x1="303.60" y1="342.32" x2="305.90" y2="342.32" stroke="#3c3c3c" stroke-width="1.00"/>
<text transform="translate(289.77 345.93) scale(0.8600 1)" font-size="9.60" fill="#000" stroke="#000" stroke-width="0.20">1.5</text>
<line x1="303.60" y1="316.50" x2="305.90" y2="316.50" stroke="#3c3c3c" stroke-width="1.00"/>
<text transform="translate(289.85 320.10) scale(0.8600 1)" font-size="9.60" fill="#000" stroke="#000" stroke-width="0.20">2.0</text>
<path d="M314.20 361.10 V356.30 M312.30 356.30 H316.10" stroke="#3c3c3c" stroke-width="1" fill="none"/>
<path d="M322.90 363.10 V359.60 M321.00 359.60 H324.80" stroke="#3c3c3c" stroke-width="1" fill="none"/>
<path d="M332.20 364.60 V356.80 M330.30 356.80 H334.10" stroke="#3c3c3c" stroke-width="1" fill="none"/>
<rect x="310.70" y="361.10" width="7" height="58.70" fill="#000"/>
<rect x="326.50" y="364.60" width="2.0" height="55.20" fill="#a6a6a6"/>
<rect x="319.40" y="363.60" width="6.9" height="56.20" fill="#fff" stroke="#3c3c3c" stroke-width="1"/>
<rect x="328.90" y="365.10" width="6.2" height="54.70" fill="#c8c8c8" stroke="#3c3c3c" stroke-width="1"/>
<line x1="323.00" y1="419.80" x2="323.00" y2="422.10" stroke="#3c3c3c" stroke-width="1"/>
<line x1="307.80" y1="426.40" x2="338.50" y2="426.40" stroke="#111111" stroke-width="1.5"/>
<path d="M349.20 341.70 V329.10 M347.30 329.10 H351.10" stroke="#3c3c3c" stroke-width="1" fill="none"/>
<path d="M357.90 349.30 V343.20 M356.00 343.20 H359.80" stroke="#3c3c3c" stroke-width="1" fill="none"/>
<path d="M367.20 348.50 V346.50 M365.30 346.50 H369.10" stroke="#3c3c3c" stroke-width="1" fill="none"/>
<rect x="345.70" y="341.70" width="7" height="78.10" fill="#000"/>
<rect x="361.50" y="349.30" width="2.0" height="70.50" fill="#a6a6a6"/>
<rect x="354.40" y="349.80" width="6.9" height="70.00" fill="#fff" stroke="#3c3c3c" stroke-width="1"/>
<rect x="363.90" y="349.00" width="6.2" height="70.80" fill="#c8c8c8" stroke="#3c3c3c" stroke-width="1"/>
<line x1="358.00" y1="419.80" x2="358.00" y2="422.10" stroke="#3c3c3c" stroke-width="1"/>
<line x1="342.80" y1="426.40" x2="373.50" y2="426.40" stroke="#e63b26" stroke-width="1.5"/>
<path d="M384.20 360.60 V354.60 M382.30 354.60 H386.10" stroke="#3c3c3c" stroke-width="1" fill="none"/>
<path d="M392.90 358.10 V350.50 M391.00 350.50 H394.80" stroke="#3c3c3c" stroke-width="1" fill="none"/>
<path d="M402.20 360.60 V357.60 M400.30 357.60 H404.10" stroke="#3c3c3c" stroke-width="1" fill="none"/>
<rect x="380.70" y="360.60" width="7" height="59.20" fill="#000"/>
<rect x="396.50" y="360.60" width="2.0" height="59.20" fill="#a6a6a6"/>
<rect x="389.40" y="358.60" width="6.9" height="61.20" fill="#fff" stroke="#3c3c3c" stroke-width="1"/>
<rect x="398.90" y="361.10" width="6.2" height="58.70" fill="#c8c8c8" stroke="#3c3c3c" stroke-width="1"/>
<line x1="393.00" y1="419.80" x2="393.00" y2="422.10" stroke="#3c3c3c" stroke-width="1"/>
<line x1="377.80" y1="426.40" x2="408.50" y2="426.40" stroke="#3a7cc4" stroke-width="1.5"/>
<path d="M367.20 341.40 V337.70 H379.20 M390.20 337.70 H402.20 V353.60" stroke="#3c3c3c" stroke-width="1" fill="none"/>
<text transform="translate(381.60 344.20) scale(0.7226 1)" font-size="11.00" fill="#000" stroke="#000" stroke-width="0.35">**</text>
<text transform="translate(478.80 309.20) scale(0.7697 1)" font-size="13.50" fill="#000" stroke="#000" stroke-width="0.35">TIM-3</text>
<line x1="438.50" y1="316.00" x2="438.50" y2="420.30" stroke="#3c3c3c" stroke-width="1.00"/>
<line x1="438.00" y1="419.80" x2="542.50" y2="419.80" stroke="#3c3c3c" stroke-width="1.00"/>
<line x1="436.20" y1="419.80" x2="438.50" y2="419.80" stroke="#3c3c3c" stroke-width="1.00"/>
<text transform="translate(422.45 423.40) scale(0.8600 1)" font-size="9.60" fill="#000" stroke="#000" stroke-width="0.20">0.0</text>
<line x1="436.20" y1="402.58" x2="438.50" y2="402.58" stroke="#3c3c3c" stroke-width="1.00"/>
<text transform="translate(422.45 406.18) scale(0.8600 1)" font-size="9.60" fill="#000" stroke="#000" stroke-width="0.20">1.0</text>
<line x1="436.20" y1="385.37" x2="438.50" y2="385.37" stroke="#3c3c3c" stroke-width="1.00"/>
<text transform="translate(422.45 388.97) scale(0.8600 1)" font-size="9.60" fill="#000" stroke="#000" stroke-width="0.20">2.0</text>
<line x1="436.20" y1="368.15" x2="438.50" y2="368.15" stroke="#3c3c3c" stroke-width="1.00"/>
<text transform="translate(422.45 371.75) scale(0.8600 1)" font-size="9.60" fill="#000" stroke="#000" stroke-width="0.20">3.0</text>
<line x1="436.20" y1="350.93" x2="438.50" y2="350.93" stroke="#3c3c3c" stroke-width="1.00"/>
<text transform="translate(422.45 354.53) scale(0.8600 1)" font-size="9.60" fill="#000" stroke="#000" stroke-width="0.20">4.0</text>
<line x1="436.20" y1="333.72" x2="438.50" y2="333.72" stroke="#3c3c3c" stroke-width="1.00"/>
<text transform="translate(422.45 337.32) scale(0.8600 1)" font-size="9.60" fill="#000" stroke="#000" stroke-width="0.20">5.0</text>
<line x1="436.20" y1="316.50" x2="438.50" y2="316.50" stroke="#3c3c3c" stroke-width="1.00"/>
<text transform="translate(422.45 320.10) scale(0.8600 1)" font-size="9.60" fill="#000" stroke="#000" stroke-width="0.20">6.0</text>
<path d="M446.80 380.00 V374.50 M444.90 374.50 H448.70" stroke="#3c3c3c" stroke-width="1" fill="none"/>
<path d="M455.50 347.70 V337.90 M453.60 337.90 H457.40" stroke="#3c3c3c" stroke-width="1" fill="none"/>
<path d="M464.80 357.10 V346.70 M462.90 346.70 H466.70" stroke="#3c3c3c" stroke-width="1" fill="none"/>
<rect x="443.30" y="380.00" width="7" height="39.80" fill="#000"/>
<rect x="459.10" y="357.10" width="2.0" height="62.70" fill="#a6a6a6"/>
<rect x="452.00" y="348.20" width="6.9" height="71.60" fill="#fff" stroke="#3c3c3c" stroke-width="1"/>
<rect x="461.50" y="357.60" width="6.2" height="62.20" fill="#c8c8c8" stroke="#3c3c3c" stroke-width="1"/>
<line x1="455.60" y1="419.80" x2="455.60" y2="422.10" stroke="#3c3c3c" stroke-width="1"/>
<line x1="440.40" y1="426.40" x2="471.10" y2="426.40" stroke="#111111" stroke-width="1.5"/>
<path d="M481.80 368.20 V359.60 M479.90 359.60 H483.70" stroke="#3c3c3c" stroke-width="1" fill="none"/>
<path d="M490.50 349.30 V337.40 M488.60 337.40 H492.40" stroke="#3c3c3c" stroke-width="1" fill="none"/>
<path d="M499.80 351.20 V340.40 M497.90 340.40 H501.70" stroke="#3c3c3c" stroke-width="1" fill="none"/>
<rect x="478.30" y="368.20" width="7" height="51.60" fill="#000"/>
<rect x="494.10" y="351.20" width="2.0" height="68.60" fill="#a6a6a6"/>
<rect x="487.00" y="349.80" width="6.9" height="70.00" fill="#fff" stroke="#3c3c3c" stroke-width="1"/>
<rect x="496.50" y="351.70" width="6.2" height="68.10" fill="#c8c8c8" stroke="#3c3c3c" stroke-width="1"/>
<line x1="490.60" y1="419.80" x2="490.60" y2="422.10" stroke="#3c3c3c" stroke-width="1"/>
<line x1="475.40" y1="426.40" x2="506.10" y2="426.40" stroke="#e63b26" stroke-width="1.5"/>
<path d="M516.80 384.10 V379.80 M514.90 379.80 H518.70" stroke="#3c3c3c" stroke-width="1" fill="none"/>
<path d="M525.50 373.70 V369.70 M523.60 369.70 H527.40" stroke="#3c3c3c" stroke-width="1" fill="none"/>
<path d="M534.80 378.30 V375.50 M532.90 375.50 H536.70" stroke="#3c3c3c" stroke-width="1" fill="none"/>
<rect x="513.30" y="384.10" width="7" height="35.70" fill="#000"/>
<rect x="529.10" y="378.30" width="2.0" height="41.50" fill="#a6a6a6"/>
<rect x="522.00" y="374.20" width="6.9" height="45.60" fill="#fff" stroke="#3c3c3c" stroke-width="1"/>
<rect x="531.50" y="378.80" width="6.2" height="41.00" fill="#c8c8c8" stroke="#3c3c3c" stroke-width="1"/>
<line x1="525.60" y1="419.80" x2="525.60" y2="422.10" stroke="#3c3c3c" stroke-width="1"/>
<line x1="510.40" y1="426.40" x2="541.10" y2="426.40" stroke="#3a7cc4" stroke-width="1.5"/>
<path d="M499.80 334.60 V331.20 H513.80 M520.80 331.20 H534.80 V370.50" stroke="#3c3c3c" stroke-width="1" fill="none"/>
<text transform="translate(515.90 337.70) scale(0.6527 1)" font-size="11.00" fill="#000" stroke="#000" stroke-width="0.35">*</text>
<text transform="translate(18.3 117.57) rotate(-90) scale(0.7661 1)" font-size="13.40" fill="#000" stroke="#000" stroke-width="0.15">normalized MFI</text>
<text transform="translate(18.3 262.87) rotate(-90) scale(0.7661 1)" font-size="13.40" fill="#000" stroke="#000" stroke-width="0.15">normalized MFI</text>
<text transform="translate(18.3 408.07) rotate(-90) scale(0.7661 1)" font-size="13.40" fill="#000" stroke="#000" stroke-width="0.15">normalized MFI</text>
<text transform="translate(64.40 436.00) rotate(-45) scale(0.88 1)" font-size="10.8" fill="#000" stroke="#000" stroke-width="0.2" text-anchor="end">NK-92</text>
<text transform="translate(97.20 436.30) rotate(-45) scale(0.88 1)" font-size="10.8" fill="#e2231a" stroke="#e2231a" stroke-width="0.2" text-anchor="end">hu14.18.28.z</text>
<text transform="translate(130.10 436.50) rotate(-45) scale(0.88 1)" font-size="10.8" fill="#1a63b5" stroke="#1a63b5" stroke-width="0.2" text-anchor="end">hu14.18.28.z</text>
<text transform="translate(140.21 443.36) rotate(-45) scale(0.88 1)" font-size="10.8" fill="#1a63b5" stroke="#1a63b5" stroke-width="0.2" text-anchor="end">_RD-IL15</text>
<text transform="translate(197.40 436.00) rotate(-45) scale(0.88 1)" font-size="10.8" fill="#000" stroke="#000" stroke-width="0.2" text-anchor="end">NK-92</text>
<text transform="translate(230.20 436.30) rotate(-45) scale(0.88 1)" font-size="10.8" fill="#e2231a" stroke="#e2231a" stroke-width="0.2" text-anchor="end">hu14.18.28.z</text>
<text transform="translate(263.10 436.50) rotate(-45) scale(0.88 1)" font-size="10.8" fill="#1a63b5" stroke="#1a63b5" stroke-width="0.2" text-anchor="end">hu14.18.28.z</text>
<text transform="translate(273.21 443.36) rotate(-45) scale(0.88 1)" font-size="10.8" fill="#1a63b5" stroke="#1a63b5" stroke-width="0.2" text-anchor="end">_RD-IL15</text>
<text transform="translate(330.00 436.00) rotate(-45) scale(0.88 1)" font-size="10.8" fill="#000" stroke="#000" stroke-width="0.2" text-anchor="end">NK-92</text>
<text transform="translate(362.80 436.30) rotate(-45) scale(0.88 1)" font-size="10.8" fill="#e2231a" stroke="#e2231a" stroke-width="0.2" text-anchor="end">hu14.18.28.z</text>
<text transform="translate(395.70 436.50) rotate(-45) scale(0.88 1)" font-size="10.8" fill="#1a63b5" stroke="#1a63b5" stroke-width="0.2" text-anchor="end">hu14.18.28.z</text>
<text transform="translate(405.81 443.36) rotate(-45) scale(0.88 1)" font-size="10.8" fill="#1a63b5" stroke="#1a63b5" stroke-width="0.2" text-anchor="end">_RD-IL15</text>
<text transform="translate(462.60 436.00) rotate(-45) scale(0.88 1)" font-size="10.8" fill="#000" stroke="#000" stroke-width="0.2" text-anchor="end">NK-92</text>
<text transform="translate(495.40 436.30) rotate(-45) scale(0.88 1)" font-size="10.8" fill="#e2231a" stroke="#e2231a" stroke-width="0.2" text-anchor="end">hu14.18.28.z</text>
<text transform="translate(528.30 436.50) rotate(-45) scale(0.88 1)" font-size="10.8" fill="#1a63b5" stroke="#1a63b5" stroke-width="0.2" text-anchor="end">hu14.18.28.z</text>
<text transform="translate(538.41 443.36) rotate(-45) scale(0.88 1)" font-size="10.8" fill="#1a63b5" stroke="#1a63b5" stroke-width="0.2" text-anchor="end">_RD-IL15</text>
<rect x="46.0" y="492.4" width="8.6" height="8.5" fill="#000"/>
<rect x="46.5" y="506.6" width="7.7" height="7.6" fill="#fff" stroke="#3c3c3c" stroke-width="1"/>
<rect x="46.5" y="520.6" width="7.7" height="7.6" fill="#c8c8c8" stroke="#3c3c3c" stroke-width="1"/>
<text transform="translate(60.95 500.00) scale(0.8966 1)" font-size="10.20" fill="#000" stroke="#000" stroke-width="0.35">no target</text>
<text transform="translate(60.98 514.20) scale(0.8562 1)" font-size="10.20" fill="#000" stroke="#000" stroke-width="0.35">K562</text>
<text transform="translate(60.98 528.40) scale(0.8537 1)" font-size="10.20" fill="#000" stroke="#000" stroke-width="0.35">EL4</text>
</svg>
</body></html>
